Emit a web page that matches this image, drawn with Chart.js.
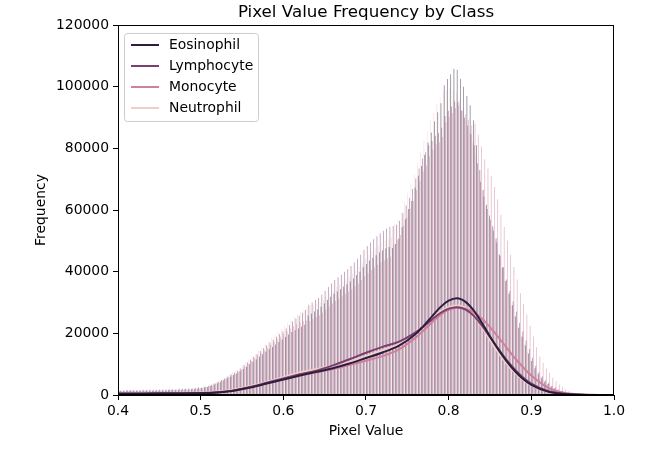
<!DOCTYPE html>
<html>
<head>
<meta charset="utf-8">
<script src="https://cdn.jsdelivr.net/npm/chart.js@4.4.0/dist/chart.umd.min.js"></script>
<style>
html, body { margin: 0; padding: 0; background: #fff; }
#wrap { width: 666px; height: 458px; }
</style>
</head>
<body>
<div id="wrap"><canvas id="myChart"></canvas></div>
<script>
// classes and their colours
const classNames = ["Eosinophil", "Lymphocyte", "Monocyte", "Neutrophil"];
const classColors = ["#2d1e3e", "#7a3e71", "#d0809c", "#efd0c9"];
const chartTitle = "Pixel Value Frequency by Class";

// 8-bit pixel levels shown (value = level / 255)
const pixelLevels = [102,103,104,105,106,107,108,109,110,111,112,113,114,115,116,117,118,119,120,121,122,123,124,125,126,127,
  128,129,130,131,132,133,134,135,136,137,138,139,140,141,142,143,144,145,146,147,148,149,150,151,152,153,154,155,156,157,158,159,160,
  161,162,163,164,165,166,167,168,169,170,171,172,173,174,175,176,177,178,179,180,181,182,183,184,185,186,
  187,188,189,190,191,192,193,194,195,196,197,198,199,200,201,202,203,204,205,206,207,208,209,210,211,
  212,213,214,215,216,217,218,219,220,221,222,223,224,225,226,227,228,229,230,231,232,233,234,235,236,237,238,239,240,
  241,242,243,244,245,246,247,248,249,250,251,252,253,254,255];

// histogram counts per level, in thousands
const eosinophilCounts = [1.3,1.3,1.3,1.4,1.4,1.4,1.4,1.4,1.4,1.4,1.4,1.4,1.4,1.5,1.5,1.5,1.6,1.6,1.6,1.7,1.7,1.8,1.8,1.9,2.0,2.1,
  2.2,2.4,2.6,3.0,3.4,3.8,4.3,4.8,5.4,5.9,6.5,7.0,7.7,
  8.4,9.2,10.0,10.8,11.6,12.4,13.2,14.0,14.8,15.6,16.4,17.2,18.0,18.8,19.6,20.4,21.0,21.6,22.2,22.8,
  25.8,26.4,27.1,27.7,28.6,29.7,30.8,31.9,32.8,33.6,34.3,35.2,35.9,36.8,37.8,38.9,40.0,41.4,42.5,43.6,44.4,45.3,46.2,46.9,47.5,48.0,
  47.7,49.0,50.7,54.4,57.0,60.3,62.9,67.2,71.1,74.3,77.8,81.9,85.1,88.8,91.7,94.6,
  100.5,102.5,104.0,105.8,105.5,102.5,100.0,97.0,94.0,
  89.0,81.0,73.0,66.6,61.7,
  58.2,54.7,50.8,45.6,41.4,37.0,32.8,29.1,25.5,21.8,18.9,16.1,13.5,11.0,8.7,6.8,5.5,4.3,3.6,2.7,2.1,1.5,1.1,0.8,0.5,0.3,0.2,0.1,0.1,0,0,
  0,0,0,0,0,0,0,0];
const lymphocyteCounts = [1.5,1.5,1.5,1.6,1.6,1.6,1.6,1.6,1.7,1.7,1.7,1.7,1.7,1.8,1.8,1.8,1.9,1.9,1.9,2.0,2.0,2.1,2.1,2.2,2.3,2.5,
  2.4,2.7,3.0,3.3,3.8,4.3,4.9,5.4,6.0,6.7,7.3,7.9,8.6,
  9.7,10.6,11.5,12.4,13.3,14.3,15.2,16.1,17.0,17.9,18.9,19.8,20.7,21.6,22.7,23.8,24.8,25.7,26.7,27.6,
  29.3,30.0,30.8,31.5,32.5,33.8,35.0,36.2,37.3,38.2,39.0,40.0,40.8,41.8,43.0,44.2,45.5,47.0,48.3,49.5,50.5,51.5,52.5,53.3,54.0,54.6,
  54.8,55.2,56.5,59.0,61.5,64.0,66.8,70.2,73.5,76.7,78.7,81.0,82.4,84.1,85.0,86.7,
  90.5,92.2,93.6,95.2,95.0,92.3,90.0,87.3,84.6,
  81.0,75.2,69.2,64.3,60.3,
  56.8,53.3,49.5,45.0,41.4,37.5,33.7,30.3,27.0,23.4,20.7,17.7,14.9,12.2,9.6,7.5,6.1,4.8,4.0,3.0,2.4,1.8,1.3,1.0,0.7,0.4,0.3,0.2,0.1,0.1,0,
  0,0,0,0,0,0,0,0];
const monocyteCounts = [1.2,1.2,1.2,1.3,1.3,1.3,1.3,1.3,1.4,1.4,1.4,1.4,1.4,1.4,1.4,1.4,1.5,1.5,1.5,1.6,1.6,1.7,1.7,1.8,1.8,2.0,
  2.3,2.6,2.8,3.1,3.6,4.1,4.6,5.1,5.7,6.3,6.9,7.5,8.2,
  9.2,10.1,11.0,11.9,12.8,13.6,14.5,15.4,16.3,17.2,18.0,18.9,19.8,20.7,21.6,22.4,23.1,23.6,24.0,24.2,
  24.0,24.6,25.3,25.8,26.7,27.7,28.7,29.7,30.6,31.3,32.0,32.8,33.5,34.3,35.3,36.2,37.3,38.5,39.6,40.6,41.4,42.2,43.1,43.7,44.3,44.8,
  48.8,50.2,51.9,55.0,57.6,60.3,62.9,66.4,69.5,72.6,74.4,77.4,79.6,81.3,82.0,83.7,
  88.4,90.2,91.5,93.1,93.9,92.3,91.0,89.2,87.4,
  88.0,84.5,80.5,76.5,73.5,
  71.0,67.5,63.5,58.5,54.5,50.0,45.5,41.5,37.5,33.0,29.5,26.0,22.5,19.0,15.5,12.5,10.5,8.6,7.2,5.6,4.5,3.4,2.6,1.9,1.3,0.8,0.5,0.3,0.2,0.1,0.1,
  0,0,0,0,0,0,0,0];
const neutrophilCounts = [1.4,1.4,1.4,1.4,1.4,1.4,1.4,1.4,1.5,1.5,1.5,1.5,1.5,1.6,1.6,1.6,1.7,1.7,1.7,1.8,1.8,1.9,1.9,2.0,2.1,2.3,
  2.7,3.0,3.3,3.7,4.2,4.8,5.4,6.0,6.7,7.4,8.1,8.8,9.6,
  10.5,11.5,12.5,13.5,14.5,15.5,16.5,17.5,18.5,19.5,20.5,21.5,22.5,23.5,24.5,25.5,26.3,27.0,27.8,28.5,
  28.9,29.2,29.6,30.0,30.8,31.8,32.9,34.0,35.1,35.9,36.7,37.6,38.4,39.3,40.4,41.5,42.8,44.2,45.4,46.5,47.5,48.4,49.4,50.1,50.8,51.3,
  55.5,57.0,59.0,62.5,65.5,68.5,71.5,75.5,79.0,82.5,85.5,89.0,91.5,94.5,96.5,98.5,
  99.0,99.5,99.0,98.0,96.0,92.3,89.0,85.4,81.8,
  77.5,72.7,66.0,61.2,57.3,
  54.0,50.0,45.7,41.0,37.1,33.0,29.1,25.7,22.5,19.1,16.5,14.0,11.7,9.5,7.4,5.8,4.7,3.8,3.1,2.4,1.8,1.4,1.0,0.8,0.5,0.3,0.2,0.1,0.1,0,0,
  0,0,0,0,0,0,0,0];

// kde curves, in thousands
const kdeX = [0.40,0.42,0.44,0.46,0.48,0.50,0.52,0.54,0.56,0.58,0.60,0.62,0.64,0.66,0.68,0.70,0.72,0.74,0.76,0.77,0.78,0.79,
  0.80,0.81,0.82,0.83,0.84,0.85,0.86,0.87,0.88,0.89,0.90,0.92,0.94,0.96,0.98,1.00];
const eosinophilKde = [0.4,0.4,0.45,0.45,0.5,0.55,0.8,1.4,2.4,3.7,5.0,6.3,7.5,8.7,10.2,12.0,13.8,16.0,19.8,22.5,25.5,28.5,
  30.6,31.4,30.3,27.5,23.5,19.0,14.8,11.0,7.8,5.2,3.3,1.1,0.3,0.08,0.02,0];
const lymphocyteKde = [0.5,0.5,0.5,0.55,0.6,0.65,0.9,1.5,2.6,4.0,5.4,6.7,7.9,9.6,11.6,13.7,15.6,17.3,20.3,22.3,24.5,26.6,
  28.0,28.5,27.8,25.8,22.6,18.8,15.0,11.4,8.3,5.7,3.7,1.3,0.4,0.1,0.02,0];
const monocyteKde = [0.4,0.4,0.4,0.45,0.5,0.55,0.8,1.4,2.5,3.8,5.1,6.3,7.3,8.4,9.7,11.1,12.6,14.8,18.6,21.0,23.6,26.0,
  27.6,28.3,28.0,26.9,24.8,22.0,18.8,15.4,12.0,9.0,6.3,2.4,0.7,0.15,0.03,0];
const neutrophilKde = [0.6,0.6,0.6,0.65,0.7,0.8,1.1,1.8,2.9,4.3,5.8,7.3,8.4,9.5,10.9,12.6,14.5,16.6,20.2,22.6,25.0,27.1,
  28.5,29.0,28.3,25.8,22.0,17.8,13.8,10.2,7.2,4.9,3.1,1.0,0.3,0.06,0.01,0];

const xTicks = [0.4, 0.5, 0.6, 0.7, 0.8, 0.9, 1.0];
const yTicks = [0, 20000, 40000, 60000, 80000, 100000, 120000];

const countsByClass = [eosinophilCounts, lymphocyteCounts, monocyteCounts, neutrophilCounts];
const kdeByClass = [eosinophilKde, lymphocyteKde, monocyteKde, neutrophilKde];

function withAlpha(hex, a) {
  const n = parseInt(hex.slice(1), 16);
  return `rgba(${(n >> 16) & 255},${(n >> 8) & 255},${n & 255},${a})`;
}

const datasets = [];
classNames.forEach((name, c) => {
  datasets.push({
    type: 'line',
    label: name,
    data: kdeX.map((x, i) => ({ x: x, y: kdeByClass[c][i] * 1000 })),
    borderColor: classColors[c],
    borderWidth: 2,
    pointRadius: 0,
    cubicInterpolationMode: 'monotone',
    fill: false,
    order: 0
  });
});
classNames.forEach((name, c) => {
  datasets.push({
    type: 'bar',
    label: name + ' hist',
    data: pixelLevels.map((lv, i) => ({ x: lv / 255, y: countsByClass[c][i] * 1000 })),
    backgroundColor: withAlpha(classColors[c], 0.62),
    borderWidth: 0,
    categoryPercentage: 1.0,
    barPercentage: 0.85,
    order: 1
  });
});

const frameAndLegend = {
  id: 'frameAndLegend',
  afterDraw(chart) {
    const { ctx, chartArea: a } = chart;
    ctx.save();
    ctx.strokeStyle = '#000';
    ctx.lineWidth = 1;
    ctx.strokeRect(Math.round(a.left) + 0.5, Math.round(a.top) + 0.5,
      Math.round(a.right - a.left) - 1, Math.round(a.bottom - a.top) - 1);

    // title over the plot area
    ctx.fillStyle = '#000';
    ctx.font = '16.7px "DejaVu Sans"';
    ctx.textAlign = 'center';
    ctx.textBaseline = 'middle';
    ctx.fillText(chartTitle, (a.left + a.right) / 2, 13);

    // legend box
    const bx = a.left + 6, by = a.top + 8, bw = 134, bh = 88;
    ctx.beginPath();
    ctx.roundRect(bx + 0.5, by + 0.5, bw, bh, 3);
    ctx.fillStyle = 'rgba(255,255,255,0.8)';
    ctx.fill();
    ctx.strokeStyle = '#cccccc';
    ctx.stroke();
    ctx.font = '13.9px "DejaVu Sans"';
    ctx.textAlign = 'left';
    classNames.forEach((name, i) => {
      const y = by + 12 + i * 21;
      ctx.beginPath();
      ctx.strokeStyle = classColors[i];
      ctx.lineWidth = 2;
      ctx.moveTo(bx + 7, y);
      ctx.lineTo(bx + 35, y);
      ctx.stroke();
      ctx.fillStyle = '#000';
      ctx.fillText(name, bx + 45, y);
    });
    ctx.restore();
  }
};

new Chart("myChart", {
  type: 'bar',
  data: { datasets: datasets },
  options: {
    responsive: true,
    maintainAspectRatio: false,
    animation: false,
    layout: { padding: { left: 0, right: 52, top: 25, bottom: 0 } },
    plugins: {
      legend: { display: false },
      tooltip: { enabled: false },
      title: { display: false }
    },
    scales: {
      x: {
        type: 'linear',
        min: 0.4,
        max: 1.0,
        offset: false,
        afterBuildTicks: s => { s.ticks = xTicks.map(v => ({ value: v })); },
        afterFit: s => { s.height = 63; },
        ticks: {
          color: '#000',
          font: { family: 'DejaVu Sans', size: 13.9 },
          padding: 3,
          maxRotation: 0,
          callback: v => Number(v).toFixed(1)
        },
        grid: { display: true, drawOnChartArea: false, drawTicks: true, tickLength: 5, color: '#000', offset: false },
        border: { display: true, color: '#000' },
        title: {
          display: true,
          text: 'Pixel Value',
          color: '#000',
          font: { family: 'DejaVu Sans', size: 13.9 },
          padding: { top: 0, bottom: 18 }
        }
      },
      y: {
        min: 0,
        max: 120000,
        afterBuildTicks: s => { s.ticks = yTicks.map(v => ({ value: v })); },
        afterFit: s => { s.width = 118; },
        ticks: {
          color: '#000',
          font: { family: 'DejaVu Sans', size: 13.9 },
          padding: 4,
          callback: v => String(v)
        },
        grid: { display: true, drawOnChartArea: false, drawTicks: true, tickLength: 5, color: '#000' },
        border: { display: true, color: '#000' },
        title: {
          display: true,
          text: 'Frequency',
          color: '#000',
          font: { family: 'DejaVu Sans', size: 13.9 },
          padding: { top: 33, bottom: 0 }
        }
      }
    }
  },
  plugins: [frameAndLegend]
});
</script>
</body>
</html>
